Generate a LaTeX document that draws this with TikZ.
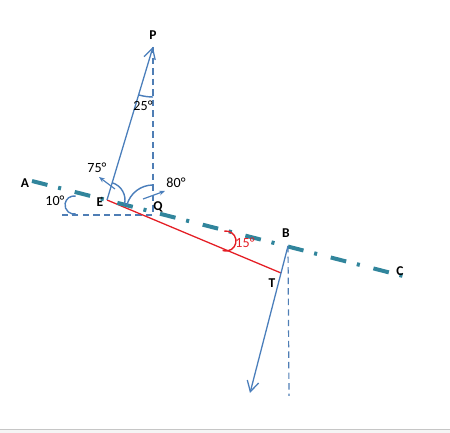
\documentclass[tikz,border=0pt]{standalone}
\usepackage{fontspec}
\setmainfont{Carlito}
\usetikzlibrary{arrows.meta}
\definecolor{vecblue}{RGB}{74,126,187}
\definecolor{courseteal}{RGB}{49,133,156}
\definecolor{trackred}{RGB}{228,30,37}

\begin{document}
\begin{tikzpicture}[x=0.03cm,y=0.03cm,
  every node/.style={font=\fontsize{12}{14}\selectfont,inner sep=1pt},
  letter/.style={font=\fontsize{11.5}{14}\selectfont\bfseries},
  vec/.style={vecblue,line width=1.1pt,-{Straight Barb[length=9pt,width=10pt]}},
  guide/.style={vecblue!90!gray,line width=1pt,dash pattern=on 5.5pt off 3.5pt},
  course/.style={courseteal,line width=3.4pt,dash pattern=on 13.6pt off 9.4pt on 2.6pt off 12pt},
  angarc/.style={vecblue,line width=1.2pt},
  pointer/.style={vecblue,line width=1pt,-{Stealth[length=5pt,width=4pt]}}]
  \useasboundingbox (0,0) rectangle (450,433);
  \fill[gray!8] (0,0) rectangle (450,4);
  \draw[gray!45,line width=0.8pt] (0,4) -- (450,4);

  \coordinate (a0) at (32,252);
  \coordinate (c0) at (403,157);
  \coordinate (E) at (107,233);
  \coordinate (Ptip) at (153,386);
  \coordinate (Pfoot) at (153,218);
  \coordinate (Hend) at (62,218);
  \coordinate (B) at (288,187);
  \coordinate (Bfoot) at (289,37);
  \coordinate (Btip) at (250,40);
  \coordinate (T) at (281,160);

  \draw[guide] (Ptip) -- (Pfoot) -- (Hend);
  \draw[guide] (B) -- (Bfoot);
  \draw[trackred,line width=1.1pt] (E) -- (T);
  \draw[course] (a0) -- (c0);
  \draw[vec] (E) -- (Ptip);
  \draw[vec] (B) -- (Btip);

  \draw[angarc] ([shift={(253.3:1.5cm)}]Ptip) arc[start angle=253.3,end angle=270,radius=1.5cm];
  \draw[angarc] ([shift={(80:0.27cm)}]74,228) arc[start angle=80,end angle=280,radius=0.27cm];
  \draw[angarc] ([shift={(73.3:0.54cm)}]E) arc[start angle=73.3,end angle=-14.4,radius=0.54cm];
  \draw[angarc] ([shift={(90:0.81cm)}]153,221) arc[start angle=90,end angle=165.6,radius=0.81cm];
  \draw[trackred,line width=1.2pt] ([shift={(100:0.3cm)}]226,192) arc[start angle=100,end angle=-110,radius=0.3cm];

  \node[letter] (lA) at (25,250) {A};
  \node[letter] (lP) at (153,398) {P};
  \node[letter] (lE) at (100,231) {E};
  \node[letter] (lQ) at (158,226) {Q};
  \node[letter] (lB) at (286,200) {B};
  \node[letter] (lT) at (272,150) {T};
  \node[letter] (lC) at (400,162) {C};
  \node (d10) at (55,232) {10°};
  \node (d75) at (97,265) {75°};
  \node (d80) at (176,250) {80°};
  \node (d25) at (143,327) {25°};
  \node[trackred] (d15) at (245,190) {15°};

  \coordinate (p75) at (115,244);
  \coordinate (q75) at (99,256);
  \coordinate (p80) at (143,234);
  \coordinate (q80) at (165,242);
  \draw[pointer] (p75) -- (q75);
  \draw[pointer] (p80) -- (q80);
\end{tikzpicture}
\end{document}
